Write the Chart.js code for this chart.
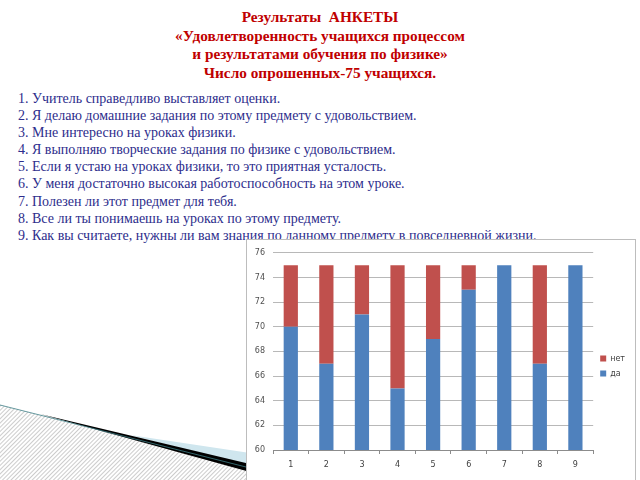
<!DOCTYPE html>
<html>
<head>
<meta charset="utf-8">
<script src="https://cdn.jsdelivr.net/npm/chart.js@4"></script>
<style>
  html, body { margin: 0; padding: 0; background: #fff; }
  body { width: 640px; height: 480px; position: relative; overflow: hidden; font-family: "Liberation Serif", "Times New Roman", serif; }
  #title { position: absolute; left: 0; top: 8px; width: 640px; text-align: center; color: #c00000; font-weight: bold; font-size: 15.3px; line-height: 18.5px; }
  #list { position: absolute; left: 18px; top: 90px; color: #2d2d8c; font-size: 14px; line-height: 17.1px; white-space: nowrap; }
  #deco { position: absolute; left: 0; top: 380px; }
  #box { position: absolute; left: 246px; top: 239px; width: 388px; height: 240px; border: 1px solid #bdbdbd; background: #fff; }
</style>
</head>
<body>
<div id="title">Результаты&nbsp; АНКЕТЫ<br>«Удовлетворенность учащихся процессом<br>и результатами обучения по физике»<br>Число опрошенных-75 учащихся.</div>
<div id="list"></div>

<svg id="deco" width="250" height="100">
  <defs>
    <pattern id="hatch" width="3" height="3" patternUnits="userSpaceOnUse" patternTransform="rotate(45)">
      <line x1="0" y1="0" x2="0" y2="3" stroke="#9a9a9a" stroke-width="1"/>
    </pattern>
  </defs>
  <polygon points="0,25 250,88 250,100 0,100" fill="url(#hatch)"/>
  <polygon points="130,55 250,73 250,86" fill="#cfe6ee"/>
  <polygon points="40,34 250,84 250,92" fill="#000"/>
  <line x1="0" y1="25" x2="250" y2="88" stroke="#3f7f86" stroke-width="0.8"/>
</svg>

<div id="box"><canvas id="chart" width="388" height="240"></canvas></div>

<script>
// questions of the survey
const questions = [
    '1. Учитель справедливо выставляет оценки.',
    '2. Я делаю домашние задания по этому предмету с удовольствием.',
    '3. Мне интересно на уроках физики.',
    '4. Я выполняю творческие задания по физике с удовольствием.',
    '5. Если я устаю на уроках физики, то это приятная усталость.',
    '6. У меня достаточно высокая работоспособность на этом уроке.',
    '7. Полезен ли этот предмет для тебя.',
    '8. Все ли ты понимаешь на уроках по этому предмету.',
    '9. Как вы считаете, нужны ли вам знания по данному предмету в повседневной жизни.'
];

// chart data
const categories = ['1', '2', '3', '4', '5', '6', '7', '8', '9'];
const yesValues = [70, 67, 71, 65, 69, 73, 75, 67, 75];
const noValues = [5, 8, 4, 10, 6, 2, 0, 8, 0];
const yTicks = [60, 62, 64, 66, 68, 70, 72, 74, 76];

document.getElementById('list').innerHTML = questions.map(q => `<div>${q}</div>`).join('');

const ctx = document.getElementById('chart').getContext('2d');
new Chart(ctx, {
    type: 'bar',
    data: {
        labels: categories,
        datasets: [
            {
                label: 'да',
                data: yesValues,
                backgroundColor: '#4f81bd',
                barPercentage: 0.4,
                categoryPercentage: 1
            },
            {
                label: 'нет',
                data: noValues,
                backgroundColor: '#c0504d',
                barPercentage: 0.4,
                categoryPercentage: 1
            }
        ]
    },
    options: {
        responsive: false,
        animation: false,
        layout: { padding: { top: 12, right: 0, bottom: 0, left: 0 } },
        scales: {
            x: {
                stacked: true,
                border: { color: '#8c8c8c' },
                grid: { drawOnChartArea: false, offset: true, tickLength: 4, color: '#8c8c8c' },
                ticks: { color: '#404040', font: { size: 8, family: 'DejaVu Sans' }, padding: 6 },
                afterFit: (scale) => { scale.height = 30; }
            },
            y: {
                stacked: true,
                min: 60,
                max: 76,
                border: { display: false },
                grid: { color: '#b8b8b8', drawTicks: false },
                ticks: {
                    stepSize: 2,
                    color: '#505050',
                    font: { size: 8, family: 'DejaVu Sans' },
                    padding: 8
                },
                afterBuildTicks: (scale) => { scale.ticks = yTicks.map(v => ({ value: v })); },
                afterFit: (scale) => { scale.width = 26; }
            }
        },
        plugins: {
            legend: {
                position: 'right',
                reverse: true,
                labels: {
                    boxWidth: 6,
                    boxHeight: 6,
                    padding: 7,
                    color: '#404040',
                    font: { size: 8, family: 'DejaVu Sans' }
                }
            },
            tooltip: { enabled: false }
        }
    }
});
</script>
</body>
</html>
